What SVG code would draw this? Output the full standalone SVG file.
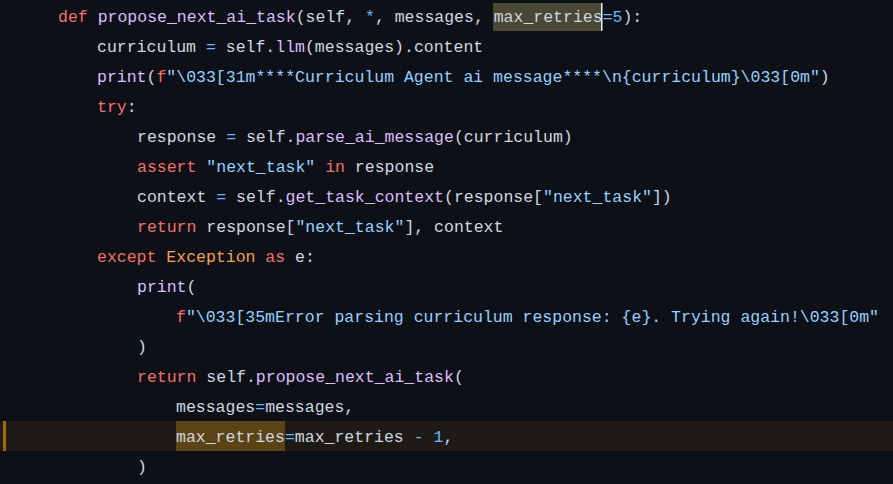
<svg xmlns="http://www.w3.org/2000/svg" width="893" height="484" viewBox="0 0 893 484">
<style>
text{font-family:"Liberation Mono","DejaVu Sans Mono",monospace;font-size:16.5px;fill:#d1d7e0;white-space:pre}
.k{fill:#f47067}.f{fill:#dcbdfb}.s{fill:#96d0ff}.o{fill:#6cb6ff}.c{fill:#f69d50}
</style>
<rect width="893" height="484" fill="#0d1117"/>
<rect x="0" y="421" width="893" height="30" fill="#1e1b16"/>
<rect x="3" y="421" width="3" height="30" fill="#9e6a03"/>
<rect x="493" y="3" width="109" height="28" fill="#484835"/>
<rect x="176" y="421" width="109" height="30" fill="#5a4416"/>
<rect x="601" y="3" width="1.5" height="28" fill="#e6edf3"/>
<g id="code" xml:space="preserve">
<text x="58" y="22"><tspan class="k">def</tspan> <tspan class="f">propose_next_ai_task</tspan>(self, <tspan class="o">*</tspan>, messages, max_retries<tspan class="o">=</tspan><tspan class="o">5</tspan>):</text>
<text x="97" y="52">curriculum <tspan class="o">=</tspan> self.<tspan class="f">llm</tspan>(messages).content</text>
<text x="97" y="82"><tspan class="f">print</tspan>(<tspan class="k">f</tspan><tspan class="s">"\033[31m****Curriculum Agent ai message****\n{curriculum}\033[0m"</tspan>)</text>
<text x="97" y="112"><tspan class="k">try</tspan>:</text>
<text x="137" y="142">response <tspan class="o">=</tspan> self.<tspan class="f">parse_ai_message</tspan>(curriculum)</text>
<text x="137" y="172"><tspan class="k">assert</tspan> <tspan class="s">"next_task"</tspan> <tspan class="k">in</tspan> response</text>
<text x="137" y="202">context <tspan class="o">=</tspan> self.<tspan class="f">get_task_context</tspan>(response[<tspan class="s">"next_task"</tspan>])</text>
<text x="137" y="232"><tspan class="k">return</tspan> response[<tspan class="s">"next_task"</tspan>], context</text>
<text x="97" y="262"><tspan class="k">except</tspan> <tspan class="c">Exception</tspan> <tspan class="k">as</tspan> e:</text>
<text x="137" y="292"><tspan class="f">print</tspan>(</text>
<text x="176" y="322"><tspan class="k">f</tspan><tspan class="s">"\033[35mError parsing curriculum response: {e}. Trying again!\033[0m"</tspan></text>
<text x="137" y="352">)</text>
<text x="137" y="382"><tspan class="k">return</tspan> self.<tspan class="f">propose_next_ai_task</tspan>(</text>
<text x="176" y="412">messages<tspan class="o">=</tspan>messages,</text>
<text x="176" y="442">max_retries<tspan class="o">=</tspan>max_retries <tspan class="o">-</tspan> <tspan class="o">1</tspan>,</text>
<text x="137" y="472">)</text>
</g>
</svg>
